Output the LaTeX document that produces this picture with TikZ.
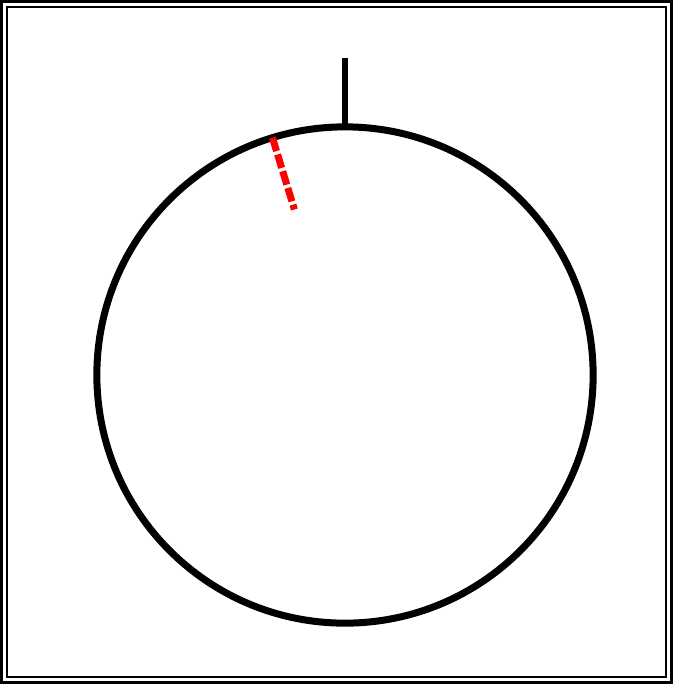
\documentclass[tikz,border=0pt]{standalone}
\usepackage{tikz}
\usetikzlibrary{calc}

\tikzset{
  frame/.style={draw=black, line width=0.03cm},
  dialring/.style={circle, draw=black, line width=0.07cm, minimum size=4.96cm, inner sep=0pt, outer sep=0pt},
  pointer/.style={draw=black, line width=0.05cm},
  redmark/.style={draw=red, line width=0.07cm, dash pattern=on 0.14cm off 0.035cm}
}

\begin{document}
\begin{tikzpicture}[x=0.01cm, y=-0.01cm]
	\useasboundingbox (0,0) rectangle (673,684);
	% frame
	\draw[frame] (1.5,1.5) rectangle (671.5,682.5);
	\draw[frame, line width=0.02cm] (7,7) rectangle (666,677);

	\node[dialring] (dial) at (345,375) {};
	\coordinate (top) at (345,58);
	\draw[pointer] (dial.north) -- (top);

	% red mark on the rim
	\coordinate (markstart) at (dial.107.6);
	\coordinate (markend) at ($(markstart)!0.75cm!(dial.center)$);
	\draw[redmark] (markstart) -- (markend);
\end{tikzpicture}
\end{document}
